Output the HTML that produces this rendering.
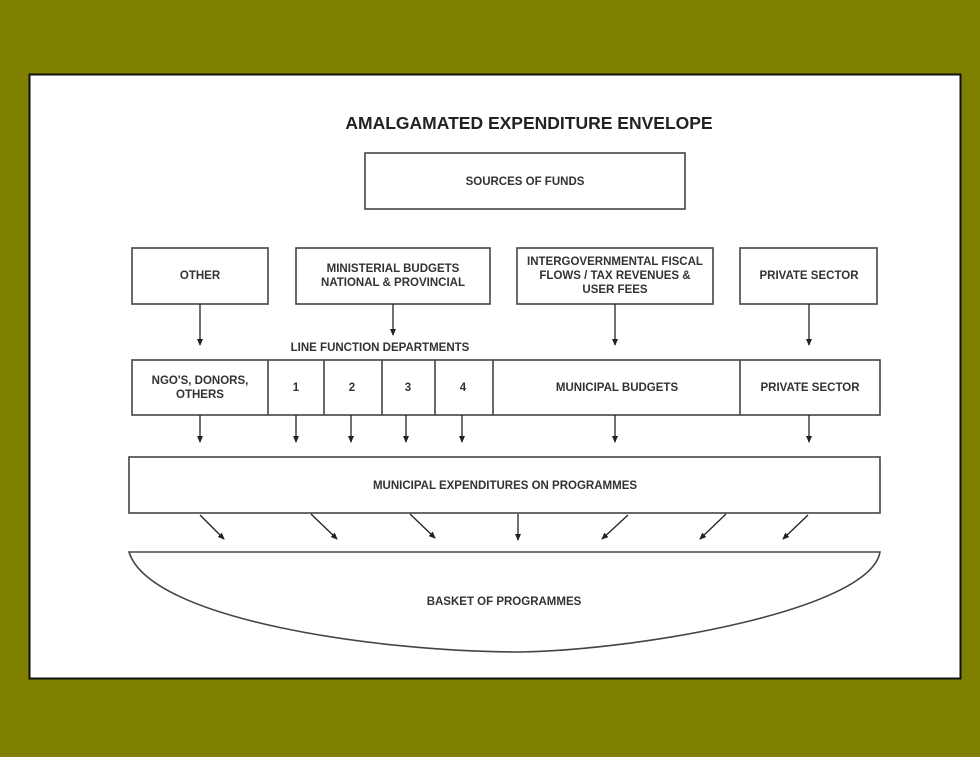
<!DOCTYPE html>
<html><head><style>
html,body{margin:0;padding:0;background:#7f7f00;}
svg{display:block;}
text{font-family:"Liberation Sans",sans-serif;font-weight:bold;fill:#333;text-anchor:middle;}
</style></head><body>
<svg width="980" height="757" viewBox="0 0 980 757">
<defs><marker id="a" markerWidth="8" markerHeight="8" refX="6" refY="4" orient="auto" markerUnits="userSpaceOnUse"><path d="M0,1 L7,4 L0,7 z" fill="#222"/></marker></defs>
<rect x="29.5" y="74.5" width="931" height="604" fill="#fff" stroke="#111" stroke-width="2"/>
<text x="529" y="129" font-size="17.5" style="fill:#222">AMALGAMATED EXPENDITURE ENVELOPE</text>
<g fill="none" stroke="#444" stroke-width="1.6">
<rect x="365" y="153" width="320" height="56"/>
<rect x="132" y="248" width="136" height="56"/>
<rect x="296" y="248" width="194" height="56"/>
<rect x="517" y="248" width="196" height="56"/>
<rect x="740" y="248" width="137" height="56"/>
<rect x="132" y="360" width="748" height="55"/>
<path d="M268 360V415M324 360V415M382 360V415M435 360V415M493 360V415M740 360V415"/>
<rect x="129" y="457" width="751" height="56"/>
<path d="M129 552H880 C 870 610, 640 650, 520 652 C 380 652, 150 620, 129 552 Z"/>
</g>
<g stroke="#222" stroke-width="1.3" marker-end="url(#a)">
<path d="M200 304V345"/><path d="M393 304V335"/><path d="M615 304V345"/><path d="M809 304V345"/>
<path d="M200 415V442"/><path d="M296 415V442"/><path d="M351 415V442"/><path d="M406 415V442"/><path d="M462 415V442"/><path d="M615 415V442"/><path d="M809 415V442"/>
<path d="M200 515L224 539"/><path d="M311 514L337 539"/><path d="M410 514L435 538"/><path d="M518 514V540"/><path d="M628 515L602 539"/><path d="M726 514L700 539"/><path d="M808 515L783 539"/>
</g>
<g font-size="11.5">
<text x="525" y="185">SOURCES OF FUNDS</text>
<text x="200" y="279">OTHER</text>
<text x="393" y="272">MINISTERIAL BUDGETS</text>
<text x="393" y="286">NATIONAL &amp; PROVINCIAL</text>
<text x="615" y="265">INTERGOVERNMENTAL FISCAL</text>
<text x="615" y="279">FLOWS / TAX REVENUES &amp;</text>
<text x="615" y="293">USER FEES</text>
<text x="809" y="279">PRIVATE SECTOR</text>
<text x="380" y="351">LINE FUNCTION DEPARTMENTS</text>
<text x="200" y="384">NGO'S, DONORS,</text>
<text x="200" y="398">OTHERS</text>
<text x="296" y="391">1</text>
<text x="352" y="391">2</text>
<text x="408" y="391">3</text>
<text x="463" y="391">4</text>
<text x="617" y="391">MUNICIPAL BUDGETS</text>
<text x="810" y="391">PRIVATE SECTOR</text>
<text x="505" y="489">MUNICIPAL EXPENDITURES ON PROGRAMMES</text>
<text x="504" y="605">BASKET OF PROGRAMMES</text>
</g>
</svg>
</body></html>
